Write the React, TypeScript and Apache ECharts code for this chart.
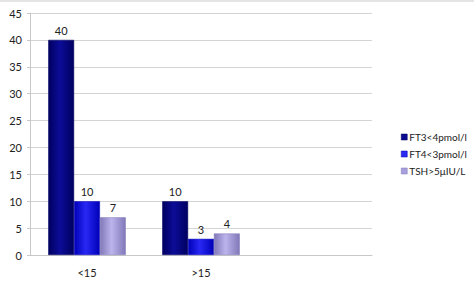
import React, { useEffect, useRef } from "react";
import * as echarts from "echarts";

const categories = ["<15", ">15", ""];
const seriesNames = ["FT3<4pmol/l", "FT4<3pmol/l", "TSH>5μIU/L"];
const ft3 = [40, 10, null];
const ft4 = [10, 3, null];
const tsh = [7, 4, null];
const yTicks = { min: 0, max: 45, interval: 5 };

const grad = (edge: string, mid: string) =>
  new echarts.graphic.LinearGradient(0, 0, 1, 0, [
    { offset: 0, color: edge },
    { offset: 0.45, color: mid },
    { offset: 1, color: edge },
  ]);

export default function App() {
  const ref = useRef<HTMLDivElement>(null);
  useEffect(() => {
    document.body.style.margin = "0";
    const chart = echarts.init(ref.current!, null, { renderer: "svg" });
    const font = "Lato, 'Open Sans', sans-serif";
    const mk = (name: string, data: any[], edge: string, mid: string) => ({
      name,
      type: "bar",
      data,
      barGap: "0%",
      barCategoryGap: "32%",
      itemStyle: { color: grad(edge, mid), borderColor: edge, borderWidth: 0.5 },
      label: {
        show: true,
        position: "top",
        distance: 4,
        color: "#222",
        fontSize: 11,
        fontFamily: font,
      },
    });
    chart.setOption({
      animation: false,
      backgroundColor: "#fff",
      grid: { left: 30, top: 13, width: 342, height: 242 },
      legend: {
        orient: "vertical",
        left: 396,
        top: 127,
        itemWidth: 6,
        itemHeight: 6,
        itemGap: 7,
        icon: "rect",
        textStyle: { fontSize: 10, color: "#222", fontFamily: font, padding: [0, 0, 0, -3] },
        data: seriesNames.map((n, i) => ({
          name: n,
          itemStyle: {
            color: ["#0a0a90", "#2a2af0", "#a8a0dc"][i],
            borderColor: ["#000060", "#0000b8", "#8078b8"][i],
            borderWidth: 0.5,
          },
        })),
      },
      xAxis: {
        type: "category",
        data: categories,
        axisLine: { lineStyle: { color: "#c8c8c8" } },
        axisTick: { show: false },
        axisLabel: { color: "#222", fontSize: 11, fontFamily: font, margin: 12 },
      },
      yAxis: {
        type: "value",
        min: yTicks.min,
        max: yTicks.max,
        interval: yTicks.interval,
        axisLine: { show: true, lineStyle: { color: "#c8c8c8" } },
        axisTick: { show: true, length: 3, lineStyle: { color: "#c8c8c8" } },
        splitLine: { lineStyle: { color: "#d4d4d4", width: 1 } },
        axisLabel: { color: "#222", fontSize: 11, fontFamily: font, margin: 8 },
      },
      graphic: [
        { type: "rect", shape: { x: 0, y: 0, width: 474, height: 2 }, style: { fill: "#e4e4e4" } },
      ],
      series: [
        mk(seriesNames[0], ft3, "#000060", "#0c0c98"),
        mk(seriesNames[1], ft4, "#0000b8", "#2828f4"),
        mk(seriesNames[2], tsh, "#8078b8", "#bcb4ec"),
      ],
    });
    return () => chart.dispose();
  }, []);
  return <div ref={ref} style={{ width: 474, height: 288 }} />;
}
